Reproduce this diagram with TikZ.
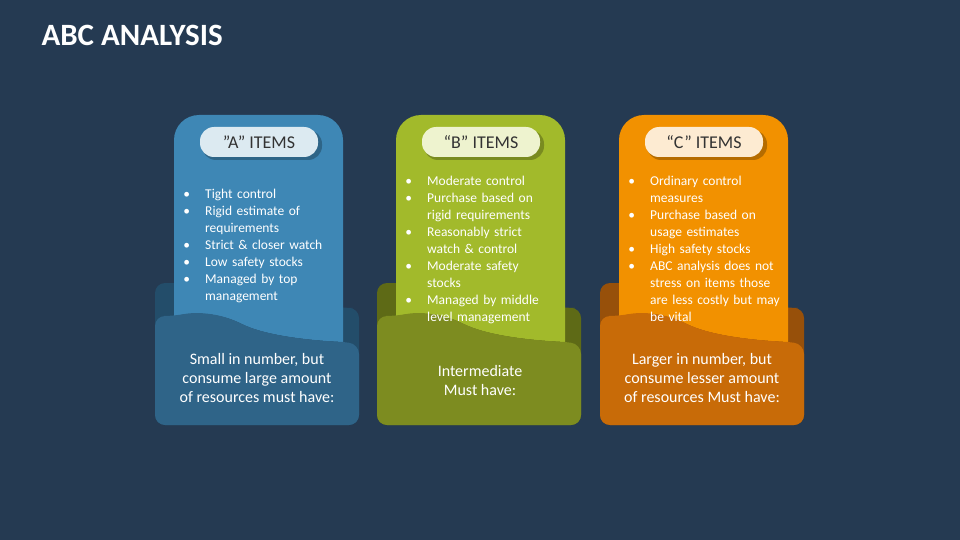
\documentclass[tikz,border=0pt]{standalone}
\usepackage{fontspec}
\setmainfont{Carlito}
\usepackage{enumitem}
\definecolor{bg}{HTML}{253A52}
\definecolor{aC}{HTML}{3E87B5}\definecolor{aF}{HTML}{2F6488}\definecolor{aB}{HTML}{234D6A}\definecolor{aP}{HTML}{DCEAF1}
\definecolor{bC}{HTML}{A2BA2B}\definecolor{bF}{HTML}{7D8C20}\definecolor{bB}{HTML}{5E6A16}\definecolor{bP}{HTML}{EEF3CF}
\definecolor{cC}{HTML}{F29100}\definecolor{cF}{HTML}{C86B08}\definecolor{cB}{HTML}{97500A}\definecolor{cP}{HTML}{FDEBD2}
\begin{document}
\begin{tikzpicture}[x=1pt,y=-1pt,
  pill/.style={rounded corners=14pt,minimum width=118pt,minimum height=30pt,text=black!80,font=\fontsize{18}{20}\selectfont},
  bul/.style={anchor=north west,text=white,text width=170pt,font=\fontsize{13.5}{17}\selectfont,inner sep=0pt},
  bot/.style={text=white,align=center,font=\fontsize{16}{19}\selectfont}]
\fill[bg] (0,0) rectangle (960,540);
\useasboundingbox (0,0) rectangle (960,540);
\node[anchor=west,text=white,font=\bfseries\fontsize{31}{34}\selectfont] (title) at (38,35) {ABC ANALYSIS};
\newcommand\abccard[9]{%
\begin{scope}[xshift=#1]
 \fill[#4,rounded corners=10pt] (155,425) -- (155,283) -- (200,283) -- (343,308) -- (359,308) -- (359,425) -- cycle;
 \fill[#2] (174,330) [rounded corners=25pt] -- (174,115) -- (343,115) [sharp corners] -- (343,342) .. controls (300,340) and (262,334) .. (242,324) .. controls (218,312) and (195,312) .. (174,316) -- cycle;
 \fill[#3,rounded corners=10pt] (155,425) -- (155,316) -- (174,316) [sharp corners] .. controls (195,312) and (218,312) .. (242,324) .. controls (262,334) and (300,340) .. (343,342) [rounded corners=10pt] -- (359,344) -- (359,425) -- cycle;
 \fill[black,opacity=0.25,rounded corners=14pt] (202,130) rectangle (322,160);
 \node[pill,fill=#5] (t#9) at (259,142) {#6};
 \node[bul] (l#9) at (181,#8) {\begin{itemize}[leftmargin=24pt,labelsep=15pt,itemsep=0pt,topsep=0pt,parsep=0pt,partopsep=0pt,label=\textbullet]#7\end{itemize}};
\end{scope}}
\newcommand\bottxt[4]{\node[bot] (#1) at (#2,#3) {#4};}
\abccard{0}{aC}{aF}{aB}{aP}{\char34A” ITEMS}{\item Tight control \item Rigid estimate of\\requirements \item Strict \& closer watch \item Low safety stocks \item Managed by top\\management}{181}{a}
\abccard{222}{bC}{bF}{bB}{bP}{“B” ITEMS}{\item Moderate control \item Purchase based on\\rigid requirements \item Reasonably strict\\watch \& control \item Moderate safety\\stocks \item Managed by middle\\level management}{168}{b}
\abccard{445}{cC}{cF}{cB}{cP}{“C” ITEMS}{\item Ordinary control\\measures \item Purchase based on\\usage estimates \item High safety stocks \item ABC analysis does not\\stress on items those\\are less costly but may\\be vital}{168}{c}
\bottxt{ba}{257}{378}{Small in number, but\\consume large amount\\of resources must have:}
\bottxt{bb}{480}{381}{Intermediate\\Must have:}
\bottxt{bc}{702}{378}{Larger in number, but\\consume lesser amount\\of resources Must have:}
\end{tikzpicture}
\end{document}
